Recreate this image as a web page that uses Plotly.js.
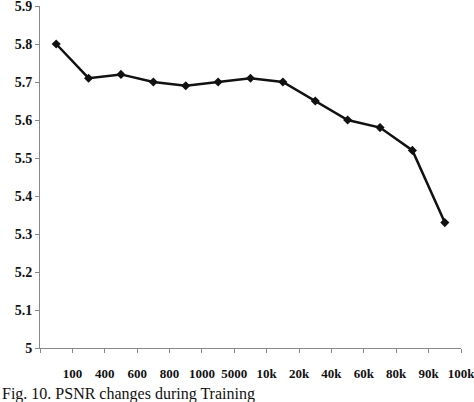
<!DOCTYPE html>
<html>
<head>
<meta charset="utf-8">
<script src="https://cdn.plot.ly/plotly-3.0.1.min.js"></script>
<style>
  html, body { margin: 0; padding: 0; background: #fff; }
  #chart { width: 474px; height: 402px; }
</style>
</head>
<body>
<div id="chart"></div>
<script>
// training steps (labels sit on the right edge of each slot, like the original)
var stepLabels = ['100', '400', '600', '800', '1000', '5000', '10k', '20k', '40k', '60k', '80k', '90k', '100k'];
var psnrValues = [5.80, 5.71, 5.72, 5.70, 5.69, 5.70, 5.71, 5.70, 5.65, 5.60, 5.58, 5.52, 5.33];

// points in the middle of each slot
var xPos = psnrValues.map((v, i) => i + 0.5);
var tickPos = [0].concat(stepLabels.map((s, i) => i + 1));
var tickText = [''].concat(stepLabels);

var trace = {
    x: xPos,
    y: psnrValues,
    type: 'scatter',
    mode: 'lines+markers',
    line: { color: '#111', width: 2.5 },
    marker: { symbol: 'diamond', size: 7, color: '#111' },
    cliponaxis: false,
    hoverinfo: 'skip'
};

var layout = {
    width: 474,
    height: 402,
    margin: { t: 6, b: 54, l: 40, r: 13 },
    paper_bgcolor: '#fff',
    plot_bgcolor: '#fff',
    showlegend: false,
    font: { family: '"Liberation Serif", "Times New Roman", serif', color: '#111' },
    xaxis: {
        range: [0, 13],
        tickmode: 'array',
        tickvals: tickPos,
        ticktext: tickText,
        ticks: 'outside',
        ticklen: 4,
        tickcolor: '#888',
        ticklabelstandoff: 9,
        ticklabeloverflow: 'allow',
        tickfont: { size: 13, weight: 'bold', color: '#111' },
        showline: true,
        linecolor: '#888',
        linewidth: 1,
        showgrid: false,
        zeroline: false,
        fixedrange: true
    },
    yaxis: {
        range: [5, 5.9],
        dtick: 0.1,
        tick0: 5,
        ticks: 'outside',
        ticklen: 4,
        tickcolor: '#888',
        ticklabeloverflow: 'allow',
        tickfont: { size: 14, weight: 'bold', color: '#111' },
        showline: true,
        linecolor: '#888',
        linewidth: 1,
        showgrid: false,
        zeroline: false,
        fixedrange: true
    },
    annotations: [{
        text: 'Fig. 10. PSNR changes during Training',
        xref: 'paper', yref: 'paper',
        x: -40 / 421, y: -46 / 342,
        xanchor: 'left', yanchor: 'middle',
        showarrow: false,
        font: { size: 16, color: '#111' }
    }]
};

Plotly.newPlot('chart', [trace], layout, { staticPlot: true });
</script>
</body>
</html>
